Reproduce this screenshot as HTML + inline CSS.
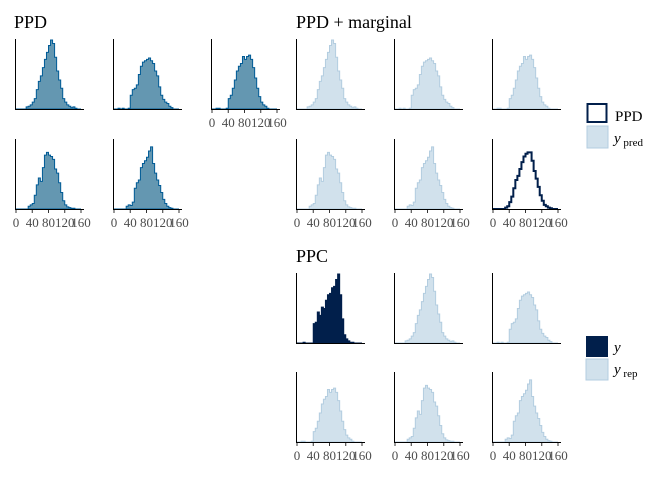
<!DOCTYPE html>
<html><head><meta charset="utf-8"><style>
body{margin:0;background:#fff}
svg{display:block;font-family:"Liberation Serif",serif}
</style></head><body>
<svg id="c" width="672" height="480">
<text x="14" y="28" font-size="18">PPD</text>
<text x="296" y="28" font-size="18">PPD + marginal</text>
<text x="296" y="262" font-size="18">PPC</text>
<g>
<rect x="587.5" y="104" width="19" height="18" fill="none" stroke="#011f4b" stroke-width="2"/>
<rect x="587" y="126" width="21" height="22" fill="#d1e1ec" stroke="#b3cde0"/>
<text x="615" y="121" font-size="15">PPD</text>
<text x="614" y="143" font-size="15"><tspan font-style="italic">y</tspan><tspan font-size="11" dy="3"> pred</tspan></text>
</g>
<g>
<rect x="586" y="336" width="22" height="21" fill="#011f4b"/>
<rect x="586" y="359" width="22" height="21" fill="#d1e1ec" stroke="#b3cde0"/>
<text x="614" y="352" font-size="15" font-style="italic">y</text>
<text x="614" y="374" font-size="15"><tspan font-style="italic">y</tspan><tspan font-size="11" dy="3"> rep</tspan></text>
</g>
</svg>
<script>
// bins of width 5 from 0 to 160
const binEdges = [0,160];
const yMax = 100;
const tickLabels = [0,40,80,120,160];
const rep1 = [0,0,0,0,0,3,4,6,10,15,28,40,48,60,72,82,92,100,95,75,55,42,30,15,10,6,4,2,3,1,0,0];
const rep2 = [0,0,1,0,1,0,0,1,20,28,30,35,50,62,68,70,72,74,70,66,55,48,32,20,14,10,8,4,2,0,0,0];
const rep3 = [0,0,1,1,0,0,0,1,15,20,30,42,55,62,66,76,72,76,78,72,60,45,30,18,10,6,4,1,0,0,0,0];
const rep4 = [0,0,0,0,0,0,4,6,8,20,35,45,40,60,78,82,78,76,72,58,52,38,24,12,6,3,2,1,1,0,0,0];
const rep5 = [0,0,0,0,0,0,4,6,5,10,30,38,42,60,66,70,75,84,90,66,52,42,34,24,14,8,4,2,1,0,0,0];
const yObs = [0,0,0,1,0,0,0,0,28,30,45,40,52,50,62,70,72,80,82,92,100,70,35,12,6,3,1,1,0,0,0,0];
const marginal = [0,0,0,0,0,0,2,4,10,18,30,42,48,58,68,76,80,82,82,70,55,44,32,20,12,6,4,2,1,0,0,0];

const svg = document.getElementById('c');
const NS = 'http://www.w3.org/2000/svg';
const C = {pp:['#6497b1','#005b96'], light:['#d1e1ec','#b3cde0'], dark:['#011f4b','#011f4b'], line:['none','#011f4b']};

function panel(name, ox, base, data, style, ticks){
  const g = document.createElementNS(NS,'g');
  
  
  svg.appendChild(g);
  const xs = v => ox + 1 + (v - binEdges[0]) / (binEdges[1] - binEdges[0]) * 65;
  const ys = v => base - 1 - v / yMax * 69;
  const bw = (binEdges[1]-binEdges[0]) / data.length;
  let d = 'M' + xs(0) + ',' + (base-1);
  data.forEach((v,i)=>{ d += 'L' + xs(i*bw) + ',' + ys(v) + 'L' + xs((i+1)*bw) + ',' + ys(v); });
  d += 'L' + xs(binEdges[1]) + ',' + (base-1);
  const p = document.createElementNS(NS,'path');
  p.setAttribute('d', style==='line' ? d : d + 'Z');
  p.setAttribute('fill', C[style][0]);
  p.setAttribute('stroke', C[style][1]);
  p.setAttribute('stroke-width', style==='line' ? 2 : 1);
  
  
  g.appendChild(p);
  const ax = document.createElementNS(NS,'path');
  ax.setAttribute('d', 'M'+(ox+0.5)+','+(base-71)+'V'+(base-0.5)+'H'+(ox+69));
  ax.setAttribute('fill','none'); ax.setAttribute('stroke','#000'); ax.setAttribute('stroke-width',1);
  
  
  g.appendChild(ax);
  if(ticks){
    tickLabels.forEach(t=>{
      const tk = document.createElementNS(NS,'line');
      tk.setAttribute('x1', xs(t)); tk.setAttribute('x2', xs(t));
      tk.setAttribute('y1', base); tk.setAttribute('y2', base+3);
      tk.setAttribute('stroke','#333');
      
      
      g.appendChild(tk);
      const tx = document.createElementNS(NS,'text');
      tx.setAttribute('x', xs(t)); tx.setAttribute('y', base+17);
      tx.setAttribute('text-anchor','middle'); tx.setAttribute('font-size','13');
      tx.setAttribute('fill','#4d4d4d');
      tx.textContent = t;
      
      
      g.appendChild(tx);
    });
  }
}
// PPD
panel('ppd-panel-1',15,110,rep1,'pp',false);
panel('ppd-panel-2',113,110,rep2,'pp',false);
panel('ppd-panel-3',211,110,rep3,'pp',true);
panel('ppd-panel-4',15,210,rep4,'pp',true);
panel('ppd-panel-5',113,210,rep5,'pp',true);
// PPD + marginal
panel('marginal-panel-1',296,110,rep1,'light',false);
panel('marginal-panel-2',394,110,rep2,'light',false);
panel('marginal-panel-3',492,110,rep3,'light',false);
panel('marginal-panel-4',296,210,rep4,'light',true);
panel('marginal-panel-5',394,210,rep5,'light',true);
panel('marginal-panel-ppd',492,210,marginal,'line',true);
// PPC
panel('ppc-panel-y',296,344,yObs,'dark',false);
panel('ppc-panel-rep-1',394,344,rep1,'light',false);
panel('ppc-panel-rep-2',492,344,rep2,'light',false);
panel('ppc-panel-rep-3',296,443,rep3,'light',true);
panel('ppc-panel-rep-4',394,443,rep4,'light',true);
panel('ppc-panel-rep-5',492,443,rep5,'light',true);
</script>
</body></html>
